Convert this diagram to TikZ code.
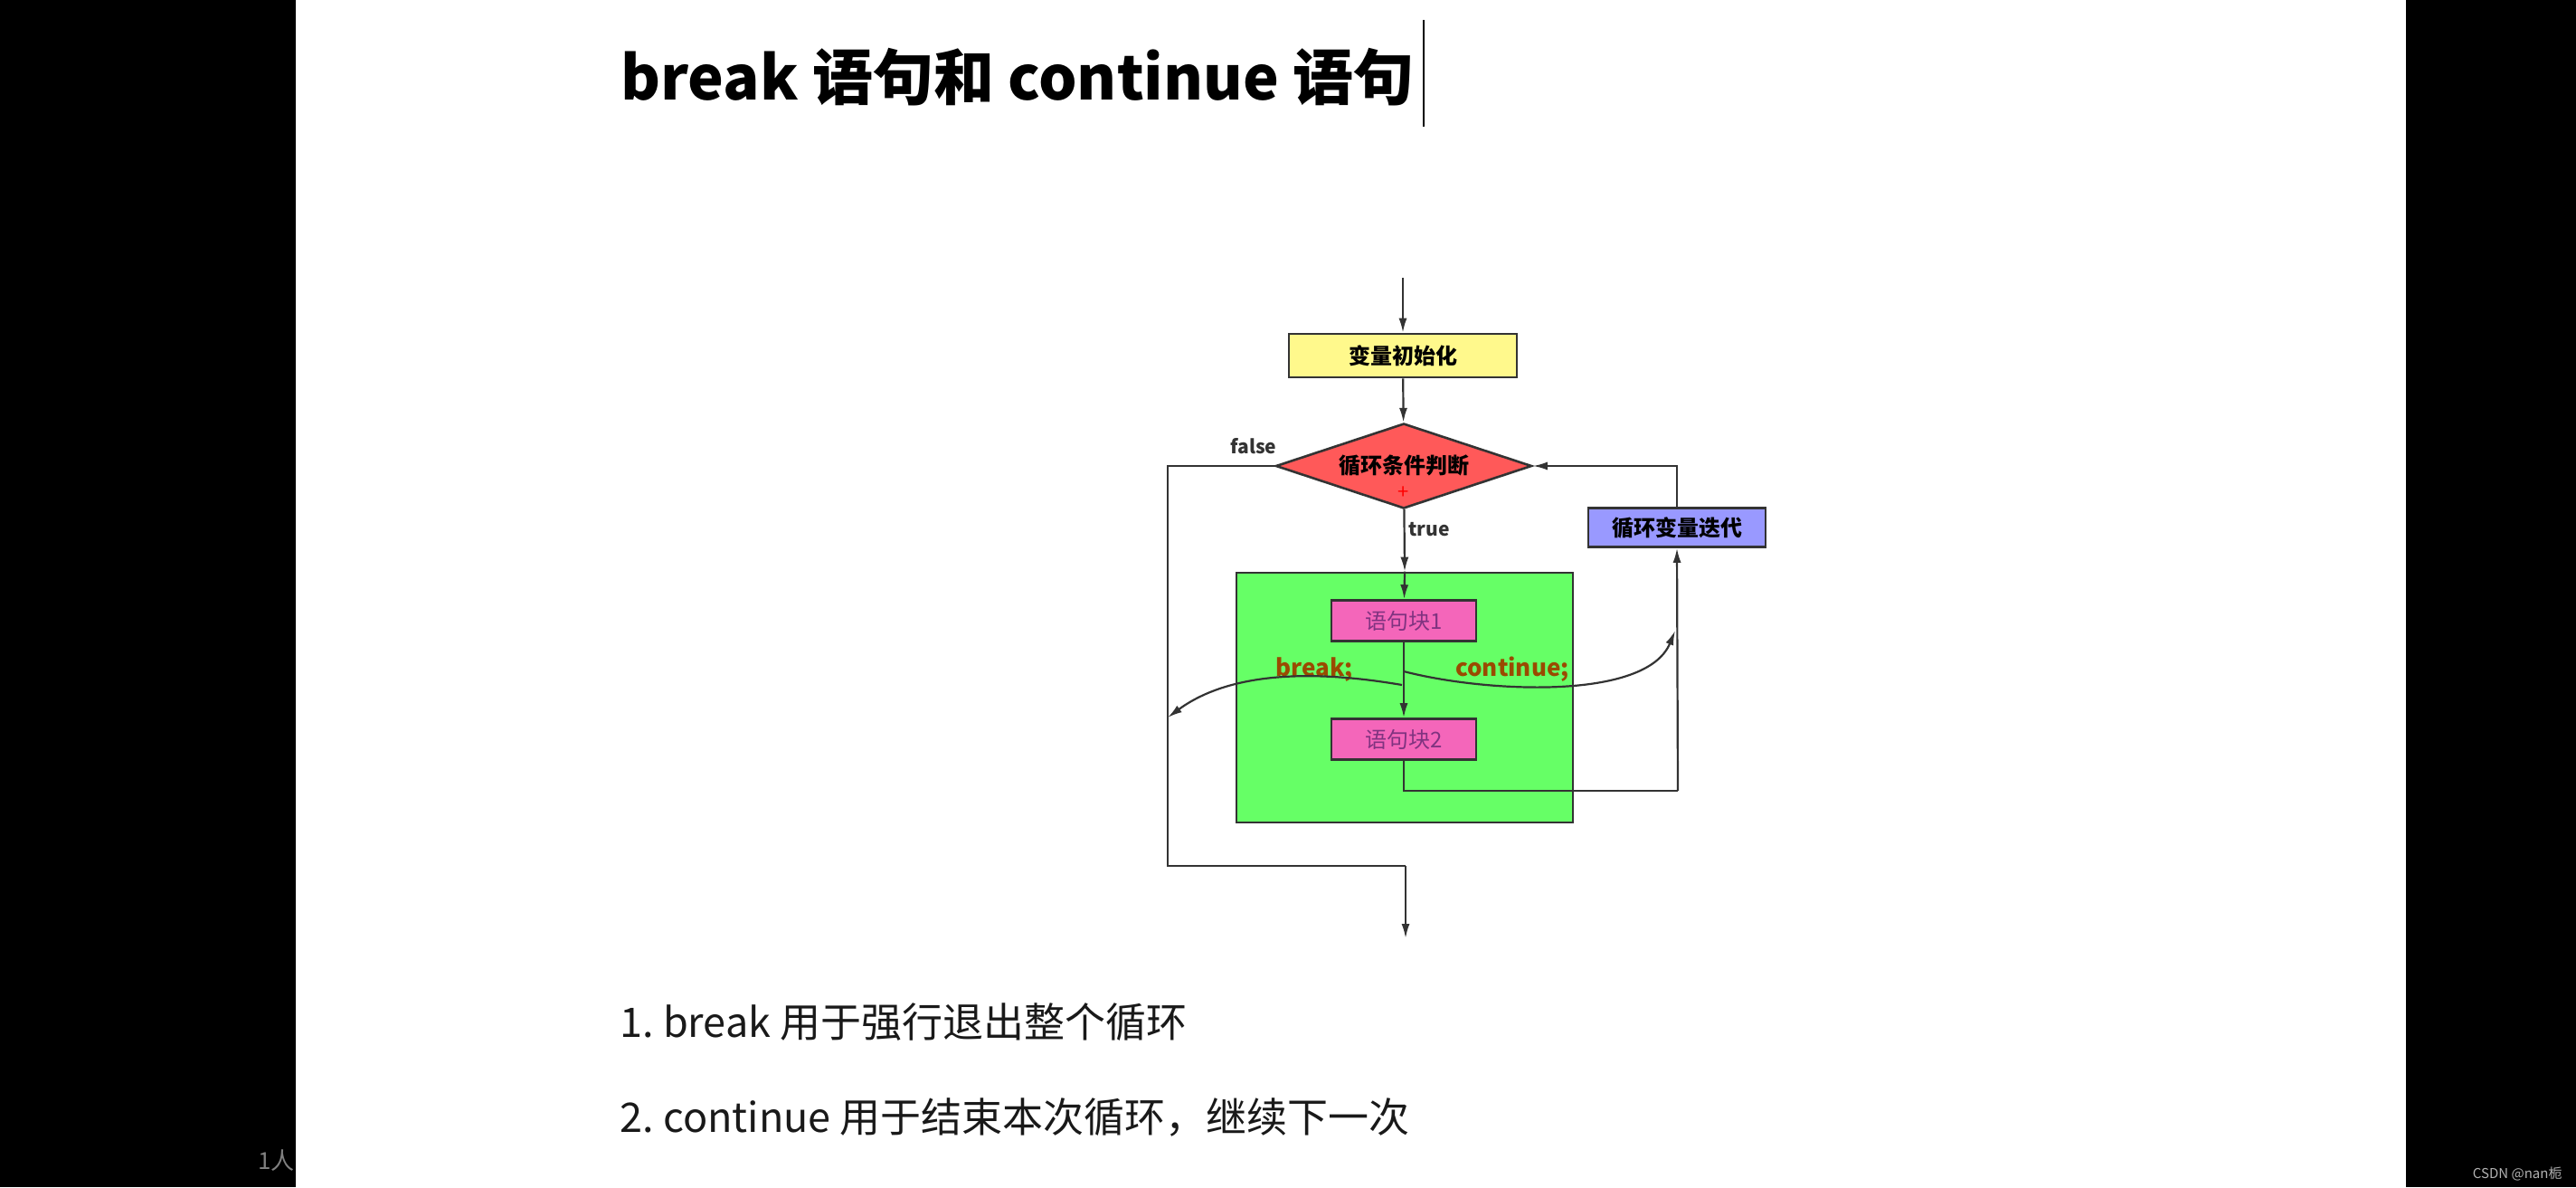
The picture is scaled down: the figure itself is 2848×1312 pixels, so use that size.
\documentclass[tikz,border=0pt]{standalone}
\usepackage{fontspec}
\setmainfont{Noto Sans CJK SC}
\usetikzlibrary{shapes.geometric,arrows.meta}
\definecolor{lc}{HTML}{333333}
\definecolor{brk}{HTML}{9A4A00}
\tikzset{
  ln/.style={draw=lc,line width=2.2pt},
  arr/.style={ln,-{Latex[length=16pt,width=9pt]}},
  boxn/.style={draw=lc,line width=2.6pt,inner sep=0pt,font=\fontsize{24}{24}\selectfont\bfseries},
  blk/.style={boxn,fill=magenta!60,minimum width=160pt,minimum height=45pt,text=violet!60!gray,font=\fontsize{24}{24}\selectfont},
  lab/.style={font=\fontsize{21}{21}\selectfont\bfseries,text=lc},
  klab/.style={font=\fontsize{26}{26}\selectfont\bfseries,text=brk},
  txt/.style={font=\fontsize{45}{45}\selectfont,anchor=west,text=black!90}
}
\begin{document}
\begin{tikzpicture}[x=1pt,y=-1pt]
\fill[black] (0,0) rectangle (2848,1312);
\fill[white] (327,0) rectangle (2660,1312);
\useasboundingbox (0,0) rectangle (2848,1312);
% title
\node[anchor=base west,inner sep=0pt,font=\fontsize{67}{67}\selectfont\bfseries] (title) at (686,110) {break 语句和 continue 语句};
\draw[line width=2pt] (1574,22) -- (1574,140);
% flowchart
\node[boxn,fill=yellow!45,minimum width=252pt,minimum height=48pt] (init) at (1551,393) {变量初始化};
\node[boxn,draw=lc,fill=red!65,shape=diamond,aspect=3,minimum width=283pt,minimum height=94pt] (cond) at (1552,515) {循环条件判断};
\node[text=red,font=\fontsize{22}{22}\selectfont] (plus) at (1552,545) {+};
\node[boxn,fill=blue!40,minimum width=196pt,minimum height=43pt] (iter) at (1854,583) {循环变量迭代};
\node[draw=lc,line width=2.6pt,fill=green!60,minimum width=372pt,minimum height=276pt,inner sep=0pt] (body) at (1553,771) {};
\node[blk] (b1) at (1552,686) {语句块1};
\node[blk] (b2) at (1552,817) {语句块2};
\node[lab] (lf) at (1386,493) {false};
\node[lab] (lt) at (1580,585) {true};
\node[klab] (lb) at (1453,740) {break;};
\node[klab] (lc2) at (1672,740) {continue;};
\coordinate (top) at (1551,307);
\coordinate (fl) at (1291,515);
\coordinate (fb) at (1291,957);
\coordinate (ob) at (1554,957);
\coordinate (out) at (1554,1037);
\coordinate (b2d) at (1552,874);
\coordinate (rc) at (1855,874);
\coordinate (rt) at (1854,515);
\coordinate (bs) at (1550,757);
\coordinate (bt) at (1291,793);
\coordinate (cs) at (1552,742);
\coordinate (ct) at (1852,697);
\draw[arr] (top) -- (init);
\draw[arr] (init) -- (cond);
\draw[arr] (cond) -- (body.north);
\draw[arr] (body.north) -- (b1);
\draw[arr] (b1) -- (b2);
\draw[ln] (cond.west) -- (fl) -- (fb) -- (ob);
\draw[arr] (ob) -- (out);
\draw[ln] (b2.south) -- (b2d) -- (rc);
\draw[arr] (rc) -- (iter.south);
\draw[arr] (iter.north) -- (rt) -- (cond.east);
\draw[arr] (bs) .. controls (1480,745) and (1370,735) .. (bt);
\draw[arr] (cs) .. controls (1640,765) and (1820,775) .. (ct);
% text
\node[txt] (t1) at (682,1130) {1.\ break 用于强行退出整个循环};
\node[txt] (t2) at (682,1235) {2.\ continue 用于结束本次循环，继续下一次};
\node[anchor=west,text=gray,font=\fontsize{26}{26}\selectfont] (ppl) at (282,1283) {1人};
\node[anchor=east,text=gray!60,font=\fontsize{15}{15}\selectfont] (csdn) at (2836,1297) {CSDN @nan栀};
\end{tikzpicture}
\end{document}
